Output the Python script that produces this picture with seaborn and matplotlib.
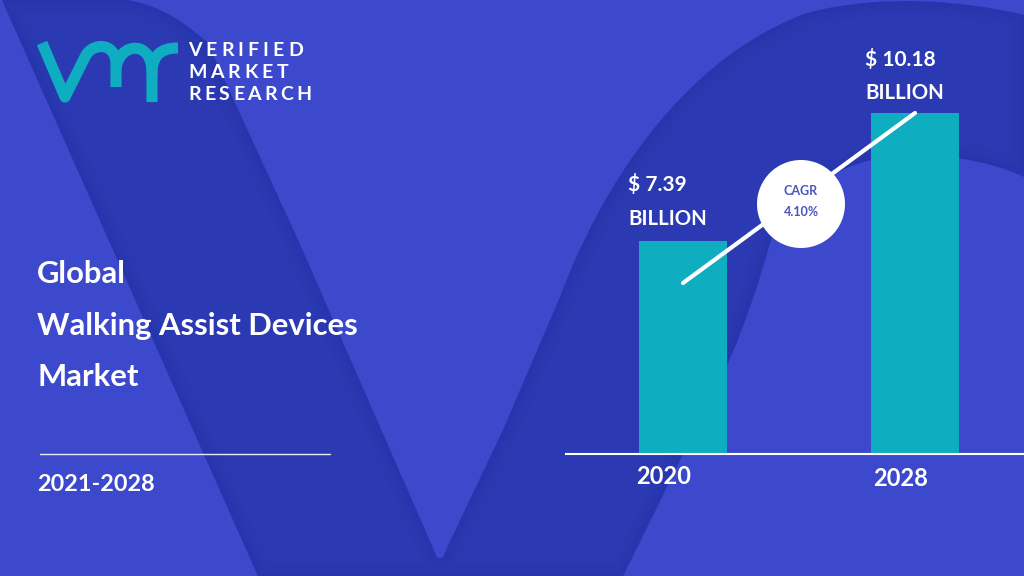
import seaborn as sns
import matplotlib
matplotlib.use('Agg')
import matplotlib.pyplot as plt
from matplotlib.path import Path
from matplotlib.patches import PathPatch, Circle

# chart values
years = ['2020', '2028']
market_size = [7.39, 10.18]
value_labels = ['$ 7.39', '$ 10.18']
cagr_label = ['CAGR', '4.10%']
title_lines = ['Global', 'Walking Assist Devices', 'Market']
period = '2021-2028'
logo_words = ['VERIFIED', 'MARKET', 'RESEARCH']

LIGHT = '#3D49CC'
DARK = '#2B3AB3'
SHADOW = '#25329F'
TEAL = '#0EAEC0'
WHITE = '#FFFFFF'

sns.set_theme(style='white')
plt.rcParams['font.family'] = ['Lato', 'DejaVu Sans']

fig = plt.figure(figsize=(10.24, 5.76), dpi=100, facecolor=LIGHT)

# background shapes, in image pixels
bg = fig.add_axes([0, 0, 1, 1], zorder=0)
bg.set_xlim(0, 1024)
bg.set_ylim(576, 0)
bg.axis('off')

M, C, L, Z = Path.MOVETO, Path.CURVE4, Path.LINETO, Path.CLOSEPOLY
verts = [(2, 0), (127, 0),
         (165, 6), (190, 28), (207, 42),
         (298, 240), (433, 548),
         (437, 562), (443, 562), (447, 548),
         (503, 430), (560, 297),
         (600, 190), (680, 60), (807, 13),
         (880, -6), (960, 0), (1024, 15),
         (1024, 177),
         (990, 160), (930, 150), (880, 158),
         (820, 170), (785, 205), (770, 243),
         (758, 285), (745, 325), (727, 365),
         (623, 576),
         (258, 576), (2, 0)]
codes = [M, L,
         C, C, C,
         L, L,
         C, C, C,
         L, L,
         C, C, C,
         C, C, C,
         L,
         C, C, C,
         C, C, C,
         C, C, C,
         L,
         L, Z]
band = Path(verts, codes)
bg.add_patch(PathPatch(band, fc=DARK, ec='none'))
# soft shading along the inside of the edges
clip = PathPatch(band, fc='none', ec='none', transform=bg.transData)
bg.add_patch(clip)
for lw in [24, 18, 12, 7, 3]:
    edge = PathPatch(band, fc='none', ec=SHADOW, lw=lw, alpha=0.06)
    bg.add_patch(edge)
    edge.set_clip_path(clip)

# bars, baseline at y=454 px
ax = fig.add_axes([566 / 1024, (576 - 454) / 576, 458 / 1024, 454 / 576], zorder=1)
ax.patch.set_alpha(0)
sns.barplot(x=years, y=market_size, color=TEAL, saturation=1, width=0.379, linewidth=0, ax=ax)
ax.set_xlim(-0.504, 1.47)
ax.set_ylim(2.75, 12.64)
ax.set_yticks([])
ax.set_xticks([])
sns.despine(ax=ax, left=True)
ax.spines['bottom'].set_color(WHITE)
ax.spines['bottom'].set_linewidth(1.5)

# text and marks on top, in image pixels
top = fig.add_axes([0, 0, 1, 1], zorder=2)
top.patch.set_alpha(0)
top.set_xlim(0, 1024)
top.set_ylim(576, 0)
top.axis('off')

top.plot([683, 915], [283, 113], color=WHITE, lw=3, solid_capstyle='round')
top.add_patch(Circle((801, 204), 44, fc=WHITE, ec='none', zorder=3))
top.text(801, 191, cagr_label[0], color='#4A55BE', fontsize=9, fontweight='bold', ha='center', va='center', zorder=4)
top.text(801, 212, cagr_label[1], color='#4A55BE', fontsize=9, fontweight='bold', ha='center', va='center', zorder=4)

for label, x, y, y2 in zip(value_labels, [628, 865], [191, 66], [225, 99]):
    top.text(x, y, label, color=WHITE, fontsize=15, fontweight='bold', va='baseline')
    top.text(x, y2, 'BILLION', color=WHITE, fontsize=14.7, fontweight='bold', va='baseline')

for year, x, y in zip(years, [664, 901], [484, 486]):
    top.text(x, y, year, color=WHITE, fontsize=17, fontweight='bold', ha='center', va='baseline')

for line, y in zip(title_lines, [283, 335, 386]):
    top.text(37, y, line, color=WHITE, fontsize=22.3, fontweight='bold', va='baseline')
top.plot([40, 330], [454, 454], color=WHITE, lw=1, alpha=0.9)
top.text(37, 491, period, color=WHITE, fontsize=16.8, fontweight='bold', va='baseline')

# logo
logo_lw = 8
logo_verts = [(42, 43), (65, 97), (65, 97), (85, 57),
              (92, 42), (116, 42), (116, 64), (116, 87)]
logo_codes = [M, L, L, L, C, C, C, L]
top.add_patch(PathPatch(Path(logo_verts, logo_codes), fc='none', ec=TEAL, lw=logo_lw, capstyle='butt', joinstyle='round'))
logo_verts2 = [(116, 68), (120, 42), (152, 40), (152, 72), (152, 102)]
logo_codes2 = [M, C, C, C, L]
top.add_patch(PathPatch(Path(logo_verts2, logo_codes2), fc='none', ec=TEAL, lw=logo_lw, capstyle='butt'))
logo_verts3 = [(152, 74), (152, 56), (160, 48), (178, 48)]
logo_codes3 = [M, C, C, C]
top.add_patch(PathPatch(Path(logo_verts3, logo_codes3), fc='none', ec=TEAL, lw=logo_lw, capstyle='butt'))

# logo words are letter spaced to a fixed width
renderer = fig.canvas.get_renderer()
for word, y, right in zip(logo_words, [56, 78, 100], [303, 288, 312]):
    letters = [top.text(188, y, ch, color=WHITE, fontsize=14, fontweight='bold', va='baseline') for ch in word]
    widths = [t.get_window_extent(renderer).width for t in letters]
    gap = (right - 188 - sum(widths)) / (len(word) - 1)
    x = 188
    for t, w in zip(letters, widths):
        t.set_x(x)
        x += w + gap

fig.savefig('out.png', dpi=100, facecolor=LIGHT)
